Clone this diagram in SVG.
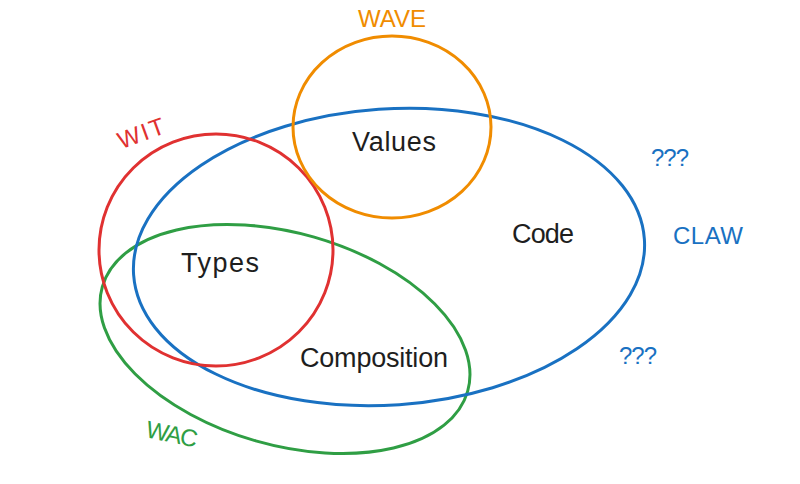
<svg xmlns="http://www.w3.org/2000/svg" width="800" height="484" viewBox="0 0 800 484">
<style>
.s{fill:none;stroke-width:3;stroke-linecap:round}
.t{font-family:"Liberation Sans",Arial,sans-serif;font-size:24px;text-anchor:middle;dominant-baseline:central}
.k{fill:#1e1e1e;font-size:27px}
</style>
<rect width="800" height="484" fill="#fff"/>
<g id="sets">
<g id="wac"><ellipse class="s" stroke="#2f9e44" cx="285" cy="339" rx="190" ry="106" transform="rotate(16 285 339)"/></g>
<g id="claw"><ellipse class="s" stroke="#1971c2" cx="389" cy="257" rx="256" ry="148" transform="rotate(-4 389 257)"/></g>
<g id="wit"><ellipse class="s" stroke="#e03131" cx="216" cy="250" rx="117" ry="116"/></g>
<g id="wave"><ellipse class="s" stroke="#f08c00" cx="392" cy="127" rx="99" ry="91"/></g>
</g>
<g id="labels">
<text class="t" x="392" y="18" fill="#f08c00" textLength="68">WAVE</text>
<text class="t" x="141" y="133" fill="#e03131" textLength="48" transform="rotate(-20 141 133)">WIT</text>
<text class="t k" x="394" y="142" textLength="84">Values</text>
<text class="t k" x="220" y="263" textLength="78">Types</text>
<text class="t k" x="543" y="234" textLength="62">Code</text>
<text class="t k" x="374" y="358" textLength="148">Composition</text>
<text class="t" x="670" y="157" fill="#1971c2" textLength="38">???</text>
<text class="t" x="708" y="235" fill="#1971c2" font-size="25" textLength="70">CLAW</text>
<text class="t" x="638" y="355" fill="#1971c2" textLength="38">???</text>
<text class="t" x="172" y="434" fill="#2f9e44" textLength="52" transform="rotate(12 172 434)">WAC</text>
</g>
</svg>
